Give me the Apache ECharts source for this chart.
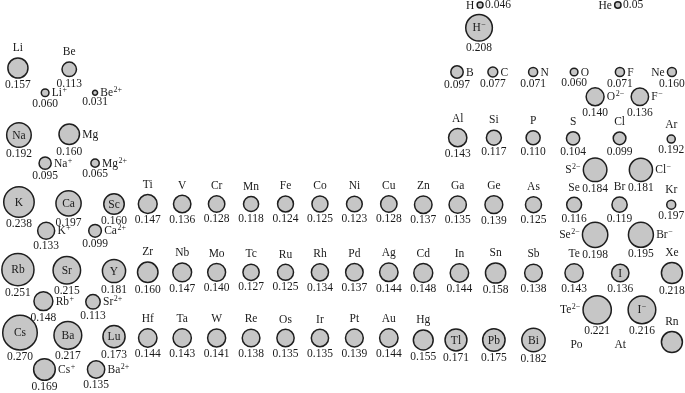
<!DOCTYPE html>
<html><head><meta charset="utf-8">
<script src="https://cdn.jsdelivr.net/npm/echarts@6/dist/echarts.min.js"></script>
<style>html,body{margin:0;padding:0;background:#fff}#c{width:685px;height:393px}</style>
</head><body><div id="c"></div>
<script>
// ---- DATA ----
// atom / ion symbols
const names = [
 'H','He','H⁻',
 'Li','Be','Li⁺','Be²⁺','B','C','N','O','F','Ne','O²⁻','F⁻',
 'Na','Mg','Na⁺','Mg²⁺','Al','Si','P','S','Cl','Ar','S²⁻','Cl⁻',
 'K','Ca','Sc','Ti','V','Cr','Mn','Fe','Co','Ni','Cu','Zn','Ga','Ge','As','Se','Br','Kr','K⁺','Ca²⁺','Se²⁻','Br⁻',
 'Rb','Sr','Y','Zr','Nb','Mo','Tc','Ru','Rh','Pd','Ag','Cd','In','Sn','Sb','Te','I','Xe','Rb⁺','Sr²⁺','Te²⁻','I⁻',
 'Cs','Ba','Lu','Hf','Ta','W','Re','Os','Ir','Pt','Au','Hg','Tl','Pb','Bi','Rn','Cs⁺','Ba²⁺'
];
// table column (group slot) of each symbol
const cols = [
 13.65,17.65,13.62,
 0.23,1.72,1.02,2.47,12.98,14.02,15.19,16.38,17.71,19.22,16.99,18.29,
 0.26,1.72,1.02,2.47,13.0,14.05,15.19,16.35,17.7,19.2,16.99,18.32,
 0.26,1.7,3.02,4,5,6,7,8,9,10,11,12,13.0,14.05,15.2,16.38,17.7,19.2,1.05,2.47,16.99,18.32,
 0.23,1.65,3.02,4,5,6,7,8,9,10,11,12,13.05,14.1,15.2,16.38,17.72,19.22,0.97,2.41,17.05,18.35,
 0.29,1.68,3.02,4,5,6,7,8,9,10,11,12,12.95,14.05,15.2,19.22,1.0,2.5
];
// table row (period slot) of each symbol
const rows = [
 0.03,0.03,0.37,
 0.97,0.99,1.34,1.34,1.03,1.03,1.03,1.03,1.03,1.03,1.4,1.4,
 1.97,1.96,2.39,2.39,2.01,2.01,2.01,2.02,2.02,2.03,2.49,2.49,
 2.97,2.99,3.0,3.0,3.0,3.0,3.0,3.0,3.0,3.0,3.0,3.01,3.01,3.01,3.01,3.01,3.01,3.01,3.4,3.4,3.46,3.46,
 3.98,3.99,4.0,4.02,4.02,4.02,4.02,4.02,4.02,4.02,4.02,4.03,4.03,4.03,4.03,4.03,4.03,4.03,4.45,4.46,4.58,4.58,
 4.92,4.96,4.98,5.0,5.0,5.0,5.0,5.0,5.0,5.0,5.0,5.03,5.03,5.03,5.03,5.06,5.47,5.47
];
// printed radius (nm)
const radii = [
 '0.046','0.05','0.208',
 '0.157','0.113','0.060','0.031','0.097','0.077','0.071','0.060','0.071','0.160','0.140','0.136',
 '0.192','0.160','0.095','0.065','0.143','0.117','0.110','0.104','0.099','0.192','0.184','0.181',
 '0.238','0.197','0.160','0.147','0.136','0.128','0.118','0.124','0.125','0.123','0.128','0.137','0.135','0.139','0.125','0.116','0.119','0.197','0.133','0.099','0.198','0.195',
 '0.251','0.215','0.181','0.160','0.147','0.140','0.127','0.125','0.134','0.137','0.144','0.148','0.144','0.158','0.138','0.143','0.136','0.218','0.148','0.113','0.221','0.216',
 '0.270','0.217','0.173','0.144','0.143','0.141','0.138','0.135','0.135','0.139','0.144','0.155','0.171','0.175','0.182','','0.169','0.135'
];
// noble gases are drawn at a smaller radius than the printed value
const drawnRadius = {Ne:0.07, Ar:0.063, Kr:0.07, Xe:0.164, Rn:0.164};
// symbols printed without a circle
const bareNames = ['Po','At'];
const bareCols = [16.45,17.72];
const bareRows = [5.1,5.1];

// ---- presentation ----
const inside = new Set(['H⁻','Na','K','Ca','Sc','Rb','Sr','Y','Cs','Ba','Lu','Tl','Pb','Bi','I','I⁻']);
const right = new Set(['Li⁺','Be²⁺','Mg','Na⁺','Mg²⁺','K⁺','Ca²⁺','Rb⁺','Sr²⁺','Cs⁺','Ba²⁺','B','C','N','O','F','O²⁻','F⁻','Cl⁻','Br⁻']);
const left = new Set(['H','He','Ne','S²⁻','Se²⁻','Te²⁻']);
const valueRight = new Set(['H','He']);
const FONT = 'Liberation Serif';
const TXT = '#1a1a1a';
const FS = 11.5;
const K = 128;

function sizeOf(i){
  const r = drawnRadius[names[i]] !== undefined ? drawnRadius[names[i]] : parseFloat(radii[i]);
  return Math.max(5, K * r);
}
function posOf(n){ return inside.has(n)?'inside':right.has(n)?'right':left.has(n)?'left':'top'; }
const supMap = {'⁺':'+','⁻':'−','²':'2'};
function richName(n){
  let base = '', sup = '';
  for (const ch of n) { if (supMap[ch]) sup += supMap[ch]; else base += ch; }
  return sup ? '{n|' + base + '}{s|' + sup + '}' : '{n|' + base + '}';
}

const circleData = names.map((n,i)=>({
  name:n, value:[cols[i],rows[i]], symbolSize:sizeOf(i),
  label:{position:posOf(n), distance: posOf(n)==='top'?3:2}
}));
const valueData = names.map((n,i)=>({
  name:radii[i], value:[cols[i],rows[i]], symbolSize:sizeOf(i),
  label:{show: radii[i]!=='', position: valueRight.has(n)?'right':'bottom', distance: valueRight.has(n)?2:1}
}));
const bareData = bareNames.map((n,i)=>({name:n, value:[bareCols[i],bareRows[i]]}));

const baseLabel = {show:true, formatter:'{b}', fontFamily:FONT, fontSize:FS, color:TXT, textBorderWidth:0};
const nameLabel = Object.assign({}, baseLabel, {
  formatter: p => richName(p.name),
  rich: {
    n: {fontFamily:FONT, fontSize:FS, color:TXT, lineHeight:13, verticalAlign:'bottom'},
    s: {fontFamily:FONT, fontSize:8, color:TXT, lineHeight:13, verticalAlign:'top', padding:[0,0,0,0.5]}
  }
});

const chart = echarts.init(document.getElementById('c'), null, {renderer:'canvas'});
chart.setOption({
  animation:false,
  backgroundColor:'#fff',
  grid:{left:10, top:3, width:675, height:390},
  xAxis:{type:'value', min:0, max:19.6, show:false},
  yAxis:{type:'value', min:0, max:390/67, inverse:true, show:false},
  series:[
    {type:'scatter', silent:true, data:circleData, z:2,
     itemStyle:{color:'#c6c6c6', borderColor:'#1e1e1e', borderWidth:1.5, opacity:1},
     label:nameLabel},
    {type:'scatter', silent:true, data:valueData, z:3,
     itemStyle:{color:'rgba(0,0,0,0)', borderWidth:0, opacity:1},
     label:baseLabel},
    {type:'scatter', silent:true, data:bareData, symbolSize:2, z:3,
     itemStyle:{color:'rgba(0,0,0,0)', borderWidth:0, opacity:1},
     label:Object.assign({}, baseLabel, {position:'top', distance:-7})}
  ]
});
</script></body></html>
